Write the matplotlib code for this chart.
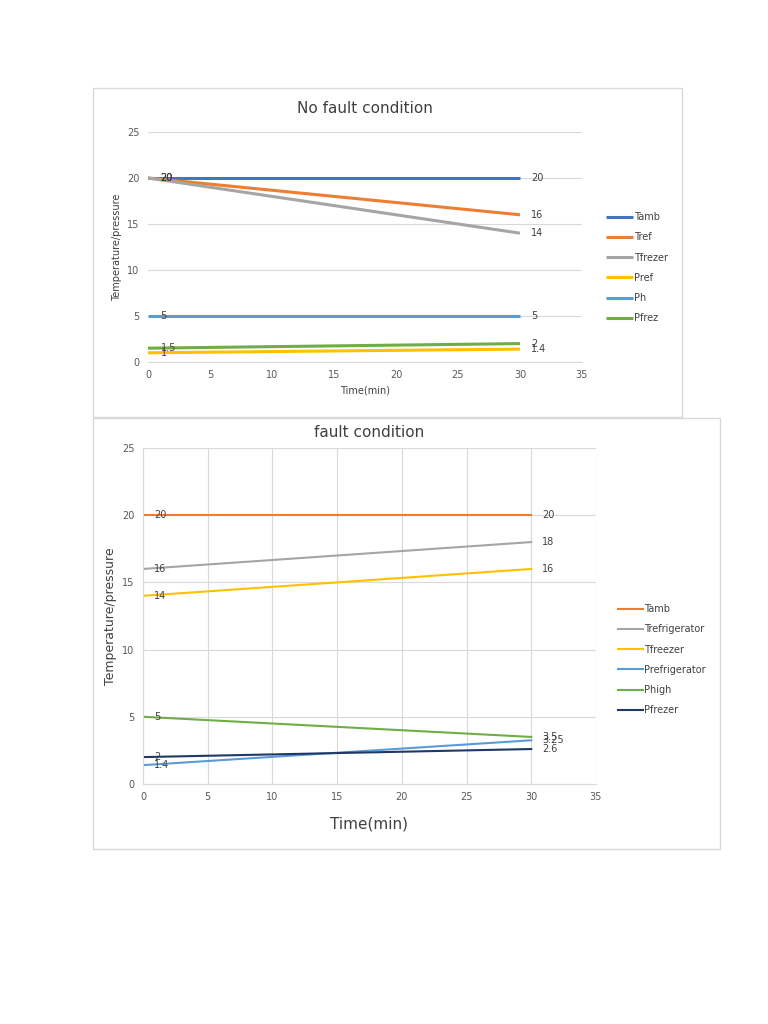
import matplotlib.pyplot as plt
from matplotlib.patches import Rectangle

# дані для обох графіків
time = [0, 30]

names_ok = ['Tamb', 'Tref', 'Tfrezer', 'Pref', 'Ph', 'Pfrez']
tamb_ok = [20, 20]
tref_ok = [20, 16]
tfrezer_ok = [20, 14]
pref_ok = [1, 1.4]
ph_ok = [5, 5]
pfrez_ok = [1.5, 2]

names_fault = ['Tamb', 'Trefrigerator', 'Tfreezer', 'Prefrigerator', 'Phigh', 'Pfrezer']
tamb_f = [20, 20]
tref_f = [16, 18]
tfreez_f = [14, 16]
pref_f = [1.4, 3.25]
phigh_f = [5, 3.5]
pfrez_f = [2, 2.6]

colors_ok = ['#4472C4', '#ED7D31', '#A5A5A5', '#FFC000', '#5B9BD5', '#70AD47']
colors_fault = ['#ED7D31', '#A5A5A5', '#FFC000', '#5B9BD5', '#70AD47', '#203864']

txt = '#404040'
tick_c = '#595959'
grid_c = '#D9D9D9'

fig = plt.figure(figsize=(7.68, 10.24), dpi=100)
fig.patch.set_facecolor('white')

# рамки навколо графіків
fig.patches.append(Rectangle((0.1211, 0.5928), 0.767, 0.3213, transform=fig.transFigure,
                             fill=False, edgecolor='#D9D9D9', linewidth=1))
fig.patches.append(Rectangle((0.1211, 0.1709), 0.8164, 0.4209, transform=fig.transFigure,
                             fill=False, edgecolor='#D9D9D9', linewidth=1))


def style_axes(ax, vgrid):
    ax.set_xlim(0, 35)
    ax.set_ylim(0, 25)
    ax.set_xticks(range(0, 36, 5))
    ax.set_yticks(range(0, 26, 5))
    ax.tick_params(length=0, labelsize=7, colors=tick_c, pad=6)
    ax.grid(axis='y', color=grid_c, linewidth=0.8)
    if vgrid:
        ax.grid(axis='x', color=grid_c, linewidth=0.8)
    ax.set_axisbelow(True)
    for s in ['top', 'right', 'left']:
        ax.spines[s].set_visible(False)
    ax.spines['bottom'].set_color(grid_c)
    if vgrid:
        ax.spines['left'].set_visible(True)
        ax.spines['left'].set_color(grid_c)


# ---------- No fault condition ----------
ax1 = fig.add_axes([0.1927, 0.6465, 0.5651, 0.2246])
style_axes(ax1, False)
series_ok = [tamb_ok, tref_ok, tfrezer_ok, pref_ok, ph_ok, pfrez_ok]
for name, vals, col in zip(names_ok, series_ok, colors_ok):
    ax1.plot(time, vals, color=col, linewidth=2.2, label=name, solid_capstyle='butt')
    ax1.annotate(f'{vals[0]:g}', (time[0], vals[0]), xytext=(9, 0), textcoords='offset points',
                 va='center', fontsize=7, color=txt)
    ax1.annotate(f'{vals[1]:g}', (time[1], vals[1]), xytext=(8, 0), textcoords='offset points',
                 va='center', fontsize=7, color=txt)
ax1.set_title('No fault condition', fontsize=11, color=txt, pad=14)
ax1.set_xlabel('Time(min)', fontsize=7, color=txt)
ax1.set_ylabel('Temperature/pressure', fontsize=7, color=txt)
ax1.legend(loc='center left', bbox_to_anchor=(1.035, 0.41), frameon=False, fontsize=7,
           labelcolor=txt, handlelength=2.8, handletextpad=0.1, labelspacing=1.05)

# ---------- fault condition ----------
ax2 = fig.add_axes([0.1862, 0.2344, 0.5898, 0.3281])
style_axes(ax2, True)
series_f = [tamb_f, tref_f, tfreez_f, pref_f, phigh_f, pfrez_f]
for name, vals, col in zip(names_fault, series_f, colors_fault):
    ax2.plot(time, vals, color=col, linewidth=1.5, label=name)
    ax2.annotate(f'{vals[0]:g}', (time[0], vals[0]), xytext=(8, 0), textcoords='offset points',
                 va='center', fontsize=7, color=txt)
    ax2.annotate(f'{vals[1]:g}', (time[1], vals[1]), xytext=(8, 0), textcoords='offset points',
                 va='center', fontsize=7, color=txt)
ax2.set_title('fault condition', fontsize=11, color=txt, pad=8)
ax2.set_xlabel('Time(min)', fontsize=11, color=txt, labelpad=10)
ax2.set_ylabel('Temperature/pressure', fontsize=9, color=txt)
ax2.legend(loc='center left', bbox_to_anchor=(1.03, 0.37), frameon=False, fontsize=7,
           labelcolor=txt, handlelength=2.5, handletextpad=0.1, labelspacing=1.05)

fig.savefig('out.png', dpi=100, facecolor='white')
